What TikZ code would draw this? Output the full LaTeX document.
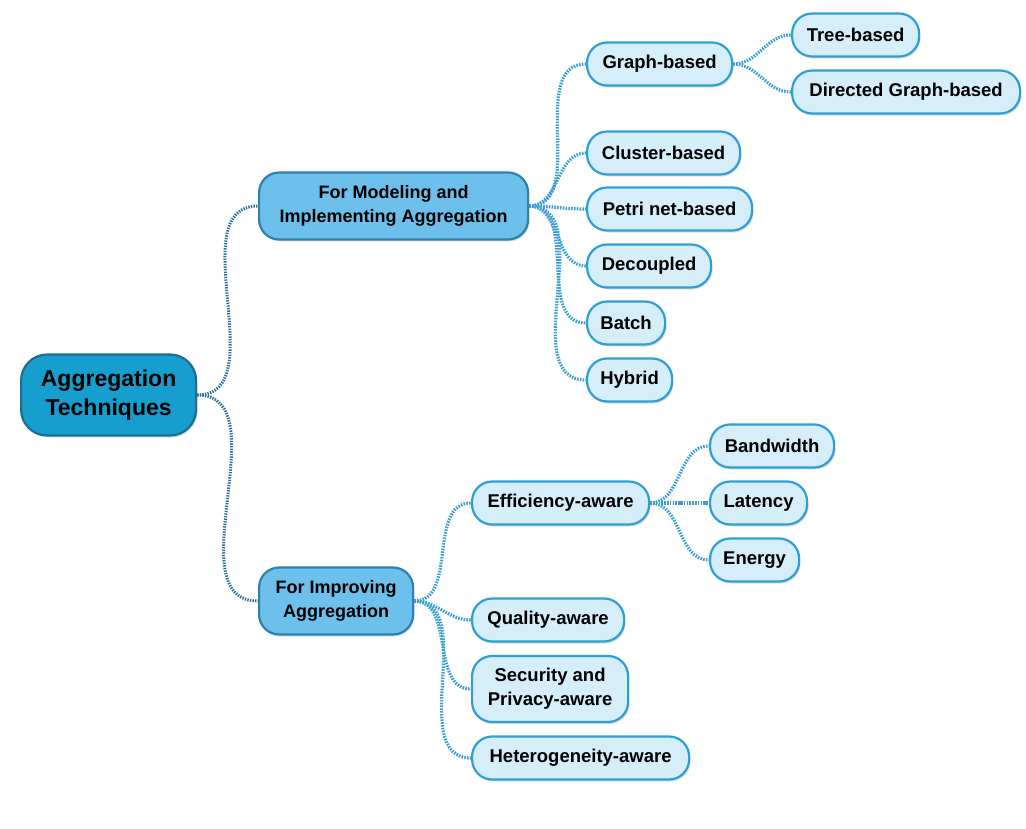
\documentclass[tikz,border=0pt]{standalone}
\usepackage{fontspec}
\setmainfont{Liberation Sans}
\usetikzlibrary{shadows,backgrounds}
\definecolor{rootfill}{HTML}{169ECF}
\definecolor{rootdraw}{HTML}{1B6E8F}
\definecolor{midfill}{HTML}{6CC0EB}
\definecolor{middraw}{HTML}{2B82AE}
\definecolor{leaffill}{HTML}{D6EEFA}
\definecolor{leafdraw}{HTML}{2E9FD6}
\definecolor{linkA}{HTML}{2A7099}
\definecolor{linkB}{HTML}{3A9FD0}
\tikzset{
  base/.style={rounded corners=20pt, align=center, inner xsep=0pt, inner ysep=0pt,
    font=\bfseries, text=black,
    drop shadow={shadow xshift=1.5pt, shadow yshift=-2pt, opacity=0.25}},
  rootbox/.style={base, fill=rootfill, draw=rootdraw, line width=2.2pt,
    rounded corners=26pt, minimum height=81pt,
    font=\fontsize{23}{29}\selectfont\bfseries},
  midbox/.style={base, fill=midfill, draw=middraw, line width=2.2pt,
    minimum height=67pt, font=\fontsize{18}{24}\selectfont\bfseries},
  leafbox/.style={base, fill=leaffill, draw=leafdraw, line width=2.2pt,
    minimum height=43pt, font=\fontsize{18.5}{24}\selectfont\bfseries},
  linkroot/.style={draw=linkA, line width=3pt, dash pattern=on 1.4pt off 1.2pt},
  linkleaf/.style={draw=linkB, line width=3.2pt, dash pattern=on 1.6pt off 1.2pt},
}
\begin{document}
\begin{tikzpicture}[x=1pt,y=-1pt]
\useasboundingbox (0,0) rectangle (1026,828);
% root
\node[rootbox, minimum width=175pt, anchor=west] (root) at (20,395) {Aggregation\\Techniques};
% mid
\node[midbox, minimum width=269pt, anchor=west] (model) at (258,206) {For Modeling and\\Implementing Aggregation};
\node[midbox, minimum width=154pt, anchor=west] (improve) at (258,601) {For Improving\\Aggregation};
% modeling leaves
\node[leafbox, minimum width=145pt, anchor=west] (graph) at (586,64) {Graph-based};
\node[leafbox, minimum width=127pt, anchor=west] (tree) at (791,35) {Tree-based};
\node[leafbox, minimum width=228pt, anchor=west] (dgraph) at (791,92) {Directed Graph-based};
\node[leafbox, minimum width=153pt, anchor=west] (cluster) at (586,153) {Cluster-based};
\node[leafbox, minimum width=165pt, anchor=west] (petri) at (586,209) {Petri net-based};
\node[leafbox, minimum width=124pt, anchor=west] (decoup) at (586,266) {Decoupled};
\node[leafbox, minimum width=78pt, anchor=west] (batch) at (586,323) {Batch};
\node[leafbox, minimum width=85pt, anchor=west] (hybrid) at (586,380) {Hybrid};
% improving leaves
\node[leafbox, minimum width=177pt, anchor=west] (eff) at (471,503) {Efficiency-aware};
\node[leafbox, minimum width=124pt, anchor=west] (band) at (709,446) {Bandwidth};
\node[leafbox, minimum width=97pt, anchor=west] (lat) at (709,503) {Latency};
\node[leafbox, minimum width=89pt, anchor=west] (energy) at (709,560) {Energy};
\node[leafbox, minimum width=152pt, anchor=west] (qual) at (471,620) {Quality-aware};
\node[leafbox, minimum width=156pt, minimum height=66pt, anchor=west] (sec) at (471,689) {Security and\\Privacy-aware};
\node[leafbox, minimum width=217pt, anchor=west] (het) at (471,758) {Heterogeneity-aware};
% connectors
\begin{scope}[on background layer]
\draw[linkroot] (root.east) to[out=0,in=180] (model.west);
\draw[linkroot] (root.east) to[out=0,in=180] (improve.west);
\foreach \c in {graph,cluster,petri,decoup,batch,hybrid}
  \draw[linkleaf] (model.east) to[out=0,in=180] (\c.west);
\foreach \c in {tree,dgraph}
  \draw[linkleaf] (graph.east) to[out=0,in=180] (\c.west);
\foreach \c in {eff,qual,sec,het}
  \draw[linkleaf] (improve.east) to[out=0,in=180] (\c.west);
\foreach \c in {band,lat,energy}
  \draw[linkleaf] (eff.east) to[out=0,in=180] (\c.west);
\end{scope}
\end{tikzpicture}
\end{document}
